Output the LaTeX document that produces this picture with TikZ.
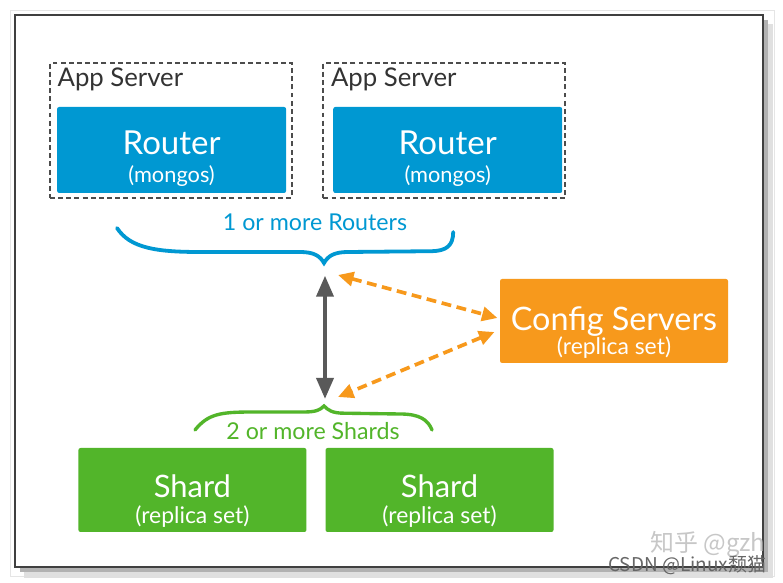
\documentclass[tikz,border=0pt]{standalone}
\usepackage{fontspec}
\setmainfont{Lato}
\newfontfamily\cjkfont{Noto Sans CJK SC}
\usetikzlibrary{arrows.meta, positioning}

\definecolor{routerblue}{HTML}{0098D2}
\definecolor{cfgorange}{HTML}{F7991C}
\definecolor{shardgreen}{HTML}{52B52A}
\definecolor{darkarrow}{HTML}{595959}

% #1 strut height, #2 title, #3 subtitle size, #4 subtitle
\newcommand{\tiertxt}[4]{\rule{0pt}{#1}#2\\{\fontsize{#3}{20}\selectfont #4}}

\begin{document}
\begin{tikzpicture}[
  thick,
  appbox/.style={draw=black!70, line width=1.3pt, dash pattern=on 3.5pt off 2.3pt,
    minimum width=6.05cm, minimum height=3.375cm},
  apptxt/.style={anchor=north west, inner sep=0pt, font=\fontsize{18.3}{18}\selectfont, text=black!80},
  tierbox/.style={text=white, rounded corners=1.5pt, align=center, inner sep=0pt},
  routerbox/.style={tierbox, fill=routerblue, minimum width=5.725cm, minimum height=2.15cm,
    font=\fontsize{23.5}{20}\selectfont},
  cfgbox/.style={tierbox, fill=cfgorange, minimum width=5.7cm, minimum height=2.1cm,
    font=\fontsize{23}{17}\selectfont},
  shardbox/.style={tierbox, fill=shardgreen, minimum width=5.7cm, minimum height=2.1cm,
    font=\fontsize{22}{19}\selectfont},
  brace/.style={line width=2.7pt, line cap=round},
  mainlink/.style={darkarrow, line width=3pt,
    {Triangle[length=15pt, width=12pt]}-{Triangle[length=15pt, width=12pt]}},
  cfglink/.style={cfgorange, line width=2.6pt, dash pattern=on 7pt off 4pt,
    {Triangle[length=11pt, width=10pt]}-{Triangle[length=11pt, width=10pt]}},
]

% page and framed card with shadow
\useasboundingbox (0,0) rectangle (19.575,14.55);
\draw[black!10, line width=0.6pt] (0.25,0.15) rectangle (19.35,14.3);
\fill[black!12] (0.6,0.1) rectangle (19.33,13.95);
\fill[black!30] (0.5,0.24) rectangle (19.2,14.05);
\draw[black!75, line width=1.3pt, fill=white] (0.375,0.375) rectangle (19.075,14.175);

% app servers with routers
\node[appbox] (app1) at (4.275,11.29) {};
\node[appbox] (app2) at (11.11,11.29) {};
\node[apptxt] (app1txt) at ([xshift=0.2cm, yshift=-0.14cm]app1.north west) {App Server};
\node[apptxt] (app2txt) at ([xshift=0.2cm, yshift=-0.14cm]app2.north west) {App Server};

\node[routerbox] (r1) at (4.29,10.8) {\tiertxt{29.5pt}{Router}{15.5}{(mongos)}};
\node[routerbox, right=1.15cm of r1] (r2) {\tiertxt{29.5pt}{Router}{15.5}{(mongos)}};

% brace under the routers
\draw[brace, routerblue] (2.925,8.85) .. controls (3.25,8.35) and (3.9,8.25) .. (5.0,8.25)
  -- (7.5,8.25) .. controls (7.85,8.25) and (8.0,8.15) .. (8.1,7.975)
  .. controls (8.2,8.15) and (8.35,8.25) .. (8.7,8.25)
  -- (10.8,8.27) .. controls (11.15,8.28) and (11.33,8.4) .. (11.33,8.75);
\node[anchor=base, text=routerblue, font=\fontsize{16.5}{17}\selectfont]
  (rlabel) at (7.875,8.78) {1 or more Routers};
\coordinate (rtip) at (8.125,7.975);

% config servers
\node[cfgbox] (cfg) at (15.35,6.525) {\tiertxt{33pt}{Config Servers}{16.3}{(replica set)}};

% brace over the shards
\draw[brace, shardgreen, line width=2.4pt] (4.875,3.8) .. controls (5.2,4.2) and (5.5,4.25) .. (6.3,4.25)
  -- (7.6,4.25) .. controls (7.9,4.25) and (8.0,4.3) .. (8.1,4.4)
  .. controls (8.2,4.3) and (8.3,4.22) .. (8.6,4.22)
  -- (10.0,4.2) .. controls (10.5,4.2) and (10.7,4.05) .. (10.8,3.8);
\node[anchor=base, text=shardgreen, font=\fontsize{16.5}{17}\selectfont]
  (slabel) at (7.825,3.55) {2 or more Shards};
\coordinate (stip) at (8.125,4.4);

% shards
\node[shardbox] (sh1) at (4.81,2.3) {\tiertxt{32pt}{Shard}{16.3}{(replica set)}};
\node[shardbox, right=0.45cm of sh1] (sh2) {\tiertxt{32pt}{Shard}{16.3}{(replica set)}};

% links
\draw[mainlink, shorten <=9pt, shorten >=5pt] (rtip) -- (stip);
\coordinate (cfgR) at (8.45,7.675);
\coordinate (cfgS) at (8.45,4.625);
\draw[cfglink] (cfgR) -- ([xshift=-0.05cm, yshift=0.075cm]cfg.west);
\draw[cfglink] ([xshift=-0.125cm, yshift=-0.275cm]cfg.west) -- (cfgS);

% watermark
\node[text=black!22, font=\cjkfont\fontsize{17}{17}\selectfont] (wm1) at (17.7,0.93) {知乎 @gzh};
\node[text=black!60, font=\cjkfont\fontsize{13.5}{14}\selectfont] (wm2) at (17.18,0.43) {CSDN @Linux颓猫};

\end{tikzpicture}
\end{document}
